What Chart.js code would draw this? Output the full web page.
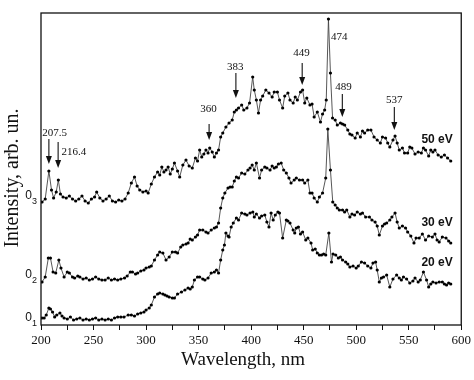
<!DOCTYPE html>
<html>
<head>
<meta charset="utf-8">
<script src="https://cdn.jsdelivr.net/npm/chart.js@4.4.1/dist/chart.umd.min.js"></script>
<style>
  html, body { margin: 0; padding: 0; background: #fff; }
  #wrap { width: 474px; height: 380px; position: relative; }
</style>
</head>
<body>
<div id="wrap"><canvas id="c" width="474" height="380"></canvas></div>
<script>
// ---- Data (wavelength in nm, intensity in arb. units incl. vertical offset) ----
const wl50 = [201,204,207.5,210,212,214.5,216.5,218.5,221,224,227,230,233,236,239,242,245,248,251,253,256,259,262,265,268,271,274,277,280,283,286,289,291.5,294,297,300,302,305,308,311,313,315,317,319,321,323,325,327,330,332,335,338,341,344,347,349,351,353,355,357,359,360.6,363,365,367,369,371,373,376,379,382,384,386,388,391,393,396,398.5,401.5,403,405,407,409,411,414,417,420,422,425,427,430,432,435,437,440,442,444,447,449,451,453,456,458,460,463,466,468,470,471.5,473.6,475.5,477.5,480,482,485,487,489,492,494,496,499,501,504,506,508,511,514,517,520,523,525,528,530,532,535,537,539,541,544,546,549,551,553,556,559,562,564,566,569,571,573,575,578,581,584,587,590];
const int50 = [123,126,154,135,127,133,145,131,128,127,129,126,124,126,129,124,122,126,128,133,127,124,126,129,124,123,125,124,126,132,142,148,139,135,133,134,132,141,148,153,150,158,153,155,158,151,156,162,154,148,160,165,159,157,167,164,175,168,171,175,172,177,173,168,172,175,188,192,198,202,205,213,215,217,220,215,217,222,248,235,225,212,225,229,235,232,228,233,233,225,217,229,232,225,222,228,225,233,235,222,227,220,221,208,213,203,211,215,225,306,252,207,205,200,202,201,200,195,191,190,187,192,188,194,192,195,195,188,185,182,188,187,182,178,185,189,182,175,177,172,172,178,177,171,173,172,177,175,169,175,173,175,170,168,170,167,164];

const wl30 = [201,204,207,209,211.5,214,217,219,222,225,227,230,232,235,237,240,243,246,249,252,255,258,261,264,267,270,273,276,279.5,282,285,287,290,292,295,298,300,303,305,308,311,313,316,319,322,325,328,330,333,335,338,340,342,344,347,349,351,354,357,359,362,365,367,369,371,373,375,378,380,382,384,386,388,391,394,397,399,401,403,405,408,410,413,415,418,420,422,424,426,428.6,431,433.5,436,438,441,443,446,449,451,454,456,458,460,463,465,468,471,473,475.5,477.7,480,482,484,487,489,491,494,496,498.5,501,504,506,509,512.6,515,518,520,522,525,527,529,532,534,537,539,541,544,547,549,552,555,557,560,563,566,569,572.5,575,577,579,582,585.5,588,590];
const int30 = [43,48,67,67,53,52,65,57,48,53,52,48,47,49,48,46,47,45,46,48,46,45,45,47,45,46,45,46,47,49,53,53,51,52,54,55,57,58,59,65,70,73,72,65,68,73,73,72,78,80,81,82,86,85,88,90,95,95,93,92,95,97,98,102,117,127,132,137,138,138,144,148,147,152,151,155,157,160,155,162,147,155,158,157,155,159,157,158,161,162,155,152,147,142,145,147,145,145,142,145,132,132,127,123,128,132,147,196,155,123,120,117,115,115,113,115,108,111,110,113,111,112,108,108,105,103,99,90,99,101,102,105,108,112,103,97,99,97,93,89,82,87,87,91,85,89,88,91,85,83,88,87,84,82];

const wl20 = [201,203,205,207.5,209,211,213,215,218,220,222,225,228,231,234,237,240,243,246,249,252,255,258,261,264,267,270,273,276,279,283,286,289,292,295,298,300,303,305,308,311,313,316,318,320,322,325,327,330,333.7,337,340,342,344,346,349,351,354,356,359,362,365,367,369,371,373,374.6,376,378,379,381,383,386,388,391,394,396,399,401.6,403,405,408,410,413,415,417,419,421,423,425.5,427,430,433.5,435,437,440,441.5,443,445,447,449,452,454,457,458.6,461,463,465,467,469,471,474,476.5,478,480.5,483,485,487,490,492,494,497,500,502,505,508,511,514,516,518.5,520,522,524,526,529,532,535,538.5,541,543,545,548,551,554,556,559,561,564,567,569,571,573,576,579,582,584,586,588,590];
const int20 = [7,7,10,17,16,13,8,10,12,9,7,6,8,5,6,7,5,6,5,6,7,5,6,5,6,5,7,8,8,8,10,10,9,11,12,13,15,17,20,28,31,32,31,30,29,28,27,27,31,33,35,37,36,38,45,48,48,46,45,47,52,53,55,52,65,75,80,92,89,88,98,102,107,105,112,111,110,112,113,108,111,107,109,110,103,98,112,105,110,113,112,87,105,104,102,95,92,97,98,91,93,85,87,82,75,76,72,70,70,71,70,92,63,71,70,67,68,65,63,61,58,59,57,59,63,62,59,57,62,63,55,43,47,48,50,38,46,50,47,45,48,46,42,44,47,43,45,53,45,38,41,43,42,43,43,41,40,42,41];

// x-axis tick labels
const xTickLabels = [200,250,300,350,400,450,500,550,600];
// vertical offsets ("zero" levels) of the three spectra
const offsetValues = [7, 50, 129];
const offsetSubs = ['1', '2', '3'];
// series labels and their anchor (wavelength, level)
const seriesNames = ['50 eV', '30 eV', '20 eV'];
const seriesNameX = [577, 577, 577];
const seriesNameY = [185, 102, 62];
// line identification arrows: label, arrow wavelength, tail level, tip level, label anchor
const arrowLabels = ['207.5', '216.4', '360', '383', '449', '474', '489', '537'];
const arrowX      = [207.5, 216.3, 360, 385.5, 448.6, null, 486.8, 536.3];
const arrowTail   = [186, 183, 201, 252, 262, null, 231, 218];
const arrowTip    = [161, 157, 185, 227, 240, null, 208, 195];
const labelX      = [213, 219.5, 359.5, 385, 448, 476, 488, 536.3];
const labelY      = [192, 173, 216, 258, 272, 288, 238, 225];
const labelAlign  = ['center', 'left', 'center', 'center', 'center', 'left', 'center', 'center'];

function pts(xs, ys) { return xs.map((x, i) => ({ x: x, y: ys[i] })); }

const serif = '"Liberation Serif", "Times New Roman", serif';
const sans = '"Liberation Sans", Arial, sans-serif';

function ds(xs, ys) {
  return {
    data: pts(xs, ys),
    borderColor: '#444',
    borderWidth: 0.9,
    pointRadius: 1.6,
    pointBackgroundColor: '#000',
    pointBorderWidth: 0,
    pointStyle: 'circle',
    tension: 0,
    fill: false
  };
}

const decor = {
  id: 'decor',
  afterDraw(chart) {
    const { ctx, chartArea: a, scales: { x, y } } = chart;
    ctx.save();
    // frame
    ctx.strokeStyle = '#111';
    ctx.lineWidth = 1.3;
    ctx.strokeRect(a.left, a.top, a.right - a.left, a.bottom - a.top);
    ctx.fillStyle = '#111';
    // offset labels 0_1 0_2 0_3
    offsetValues.forEach((v, i) => {
      const py = y.getPixelForValue(v);
      ctx.font = '12px ' + sans;
      ctx.textAlign = 'right';
      ctx.textBaseline = 'middle';
      ctx.fillText('0', a.left - 9, py);
      ctx.font = '9px ' + sans;
      ctx.textAlign = 'left';
      ctx.fillText(offsetSubs[i], a.left - 9, py + 6);
    });
    // series names
    ctx.font = 'bold 12px ' + sans;
    ctx.textAlign = 'center';
    ctx.textBaseline = 'middle';
    seriesNames.forEach((s, i) => {
      ctx.fillText(s, x.getPixelForValue(seriesNameX[i]), y.getPixelForValue(seriesNameY[i]));
    });
    // arrows and labels
    ctx.font = '11px ' + serif;
    arrowLabels.forEach((s, i) => {
      ctx.textAlign = labelAlign[i];
      ctx.fillText(s, x.getPixelForValue(labelX[i]), y.getPixelForValue(labelY[i]));
      if (arrowX[i] === null) return;
      const px = x.getPixelForValue(arrowX[i]);
      const y0 = y.getPixelForValue(arrowTail[i]);
      const y1 = y.getPixelForValue(arrowTip[i]);
      ctx.lineWidth = 1.1;
      ctx.beginPath();
      ctx.moveTo(px, y0);
      ctx.lineTo(px, y1 - 6);
      ctx.stroke();
      ctx.beginPath();
      ctx.moveTo(px - 3, y1 - 8);
      ctx.lineTo(px + 3, y1 - 8);
      ctx.lineTo(px, y1);
      ctx.closePath();
      ctx.fill();
    });
    // axis titles
    ctx.font = '19px ' + serif;
    ctx.textAlign = 'center';
    ctx.textBaseline = 'middle';
    ctx.fillText('Wavelength, nm', (a.left + a.right) / 2 - 8, 360);
    ctx.font = '20px ' + serif;
    ctx.translate(13, 178);
    ctx.rotate(-Math.PI / 2);
    ctx.fillText('Intensity, arb. un.', 0, 0);
    ctx.restore();
  }
};

new Chart(document.getElementById('c'), {
  type: 'line',
  data: {
    datasets: [ds(wl50, int50), ds(wl30, int30), ds(wl20, int20)]
  },
  options: {
    responsive: false,
    animation: false,
    layout: { padding: { left: 41, top: 13, right: 12, bottom: 0 } },
    plugins: { legend: { display: false }, tooltip: { enabled: false } },
    scales: {
      x: {
        type: 'linear',
        min: 200,
        max: 600,
        afterFit(scale) { scale.height = 55; },
        afterBuildTicks(scale) {
          const t = [];
          for (let v = 200; v <= 600; v += 25) t.push({ value: v });
          scale.ticks = t;
        },
        ticks: {
          autoSkip: false,
          maxRotation: 0,
          padding: 3,
          color: '#111',
          font: { family: serif, size: 13 },
          callback: (v) => xTickLabels.includes(v) ? String(v) : ''
        },
        grid: { display: true, drawOnChartArea: false, drawTicks: true, tickLength: 5, color: '#111', lineWidth: 1 },
        border: { display: false }
      },
      y: {
        display: false,
        min: 0,
        max: 312
      }
    }
  },
  plugins: [decor]
});
</script>
</body>
</html>
